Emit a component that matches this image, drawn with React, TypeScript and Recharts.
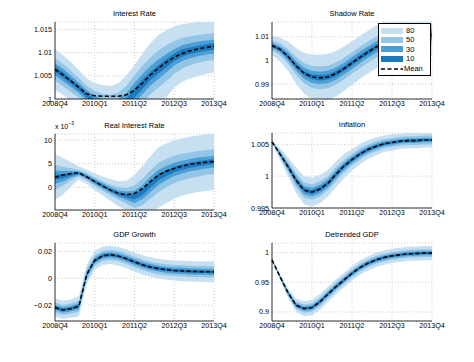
import React from 'react';
import { ComposedChart, Area, Line, XAxis, YAxis, CartesianGrid, Legend } from 'recharts';

// quarters on the x axis, labelled every 5th
const quarters = ['2008Q4', '2009Q1', '2009Q2', '2009Q3', '2009Q4', '2010Q1', '2010Q2', '2010Q3', '2010Q4', '2011Q1', '2011Q2',
  '2011Q3', '2011Q4', '2012Q1', '2012Q2', '2012Q3', '2012Q4', '2013Q1', '2013Q2', '2013Q3', '2013Q4'];
const xTicks = [0, 5, 10, 15, 20];

const bandNames = ['80', '50', '30', '10'];
const bandColors = ['#c6e0f2', '#93c5e6', '#4c9fd4', '#1b79bf'];

// Interest Rate
const irMean = [1.0064, 1.0052, 1.0039, 1.0025, 1.0011, 1.0007, 1.0006, 1.0006, 1.0006, 1.0009, 1.0019, 1.0034, 1.0052, 1.0066, 1.0079, 1.0090, 1.0098, 1.0104, 1.0108, 1.0111, 1.0114];
const irMid = [1.0064, 1.0052, 1.0038, 1.0024, 1.0008, 0.9995, 0.9986, 0.9981, 0.9982, 0.9992, 1.0013, 1.0032, 1.0050, 1.0064, 1.0077, 1.0090, 1.0099, 1.0104, 1.0108, 1.0111, 1.0113];
const irW80 = [0.0044, 0.0043, 0.0042, 0.0038, 0.0036, 0.0039, 0.0044, 0.0047, 0.0052, 0.0060, 0.0060, 0.0066, 0.0070, 0.0074, 0.0072, 0.0066, 0.0062, 0.0060, 0.0058, 0.0057, 0.0056];
const irW50 = [0.0024, 0.0024, 0.0023, 0.0021, 0.0020, 0.0022, 0.0025, 0.0028, 0.0032, 0.0037, 0.0038, 0.0040, 0.0040, 0.0040, 0.0039, 0.0035, 0.0033, 0.0031, 0.0030, 0.0029, 0.0029];
const irW30 = [0.0013, 0.0013, 0.0012, 0.0011, 0.0011, 0.0012, 0.0014, 0.0016, 0.0018, 0.0021, 0.0022, 0.0022, 0.0021, 0.0021, 0.0020, 0.0018, 0.0017, 0.0016, 0.0016, 0.0015, 0.0015];
const irW10 = [0.0006, 0.0006, 0.0005, 0.0005, 0.0005, 0.0005, 0.0006, 0.0007, 0.0008, 0.0009, 0.0010, 0.0010, 0.0009, 0.0009, 0.0009, 0.0008, 0.0008, 0.0007, 0.0007, 0.0007, 0.0007];

// Shadow Rate
const srMean = [1.0063, 1.0047, 1.0017, 0.9977, 0.9946, 0.9930, 0.9926, 0.9930, 0.9944, 0.9965, 0.9989, 1.0013, 1.0035, 1.0056, 1.0072, 1.0084, 1.0093, 1.0099, 1.0103, 1.0106, 1.0107];
const srW80 = [0.0041, 0.0050, 0.0062, 0.0075, 0.0086, 0.0095, 0.0098, 0.0098, 0.0096, 0.0094, 0.0092, 0.0091, 0.0090, 0.0090, 0.0090, 0.0090, 0.0090, 0.0090, 0.0090, 0.0090, 0.0090];
const srW50 = [0.0020, 0.0025, 0.0031, 0.0037, 0.0043, 0.0047, 0.0048, 0.0048, 0.0047, 0.0046, 0.0045, 0.0045, 0.0045, 0.0045, 0.0045, 0.0045, 0.0045, 0.0045, 0.0045, 0.0045, 0.0045];
const srW30 = [0.0011, 0.0013, 0.0017, 0.0020, 0.0023, 0.0025, 0.0026, 0.0026, 0.0026, 0.0025, 0.0025, 0.0024, 0.0024, 0.0024, 0.0024, 0.0024, 0.0024, 0.0024, 0.0024, 0.0024, 0.0024];
const srW10 = [0.0005, 0.0006, 0.0007, 0.0008, 0.0009, 0.0010, 0.0011, 0.0011, 0.0011, 0.0010, 0.0010, 0.0010, 0.0010, 0.0010, 0.0010, 0.0010, 0.0010, 0.0010, 0.0010, 0.0010, 0.0010];

// Real Interest Rate (x 10^-3)
const rrMean = [2.1, 2.6, 2.9, 3.1, 2.2, 1.2, 0.3, -0.6, -1.3, -1.6, -1.3, -0.3, 1.2, 2.6, 3.4, 4.0, 4.5, 4.9, 5.1, 5.3, 5.5];
const rrMid = [2.15, 2.35, 2.75, 3.0, 2.25, 1.2, 0.3, -0.6, -1.35, -1.8, -2.0, -1.0, 0.6, 2.1, 3.0, 3.8, 4.3, 4.7, 5.0, 5.25, 5.45];
const rrW80 = [4.85, 3.85, 2.55, 1.4, 1.55, 1.8, 2.0, 2.3, 2.65, 3.2, 4.6, 5.6, 6.0, 6.4, 6.3, 6.2, 6.1, 6.05, 6.0, 6.0, 6.0];
const rrW50 = [2.6, 2.0, 1.3, 0.7, 0.8, 0.9, 1.0, 1.15, 1.35, 1.65, 2.4, 2.8, 3.0, 3.1, 3.0, 2.9, 2.8, 2.7, 2.7, 2.6, 2.6];
const rrW30 = [1.4, 1.1, 0.7, 0.4, 0.4, 0.5, 0.55, 0.6, 0.7, 0.9, 1.3, 1.5, 1.6, 1.6, 1.5, 1.4, 1.35, 1.3, 1.3, 1.25, 1.25];
const rrW10 = [0.55, 0.45, 0.3, 0.15, 0.17, 0.2, 0.22, 0.25, 0.3, 0.38, 0.55, 0.62, 0.65, 0.65, 0.6, 0.58, 0.56, 0.55, 0.53, 0.52, 0.5];

// Inflation
const inMean = [1.0054, 1.0035, 1.0015, 0.9994, 0.9978, 0.9975, 0.9980, 0.9989, 1.0003, 1.0016, 1.0026, 1.0035, 1.0042, 1.0047, 1.0051, 1.0053, 1.0055, 1.0056, 1.0056, 1.0057, 1.0057];
const inW80 = [0.0002, 0.0009, 0.0015, 0.0020, 0.0022, 0.0023, 0.0022, 0.0021, 0.0020, 0.0019, 0.0017, 0.0016, 0.0015, 0.0014, 0.0013, 0.0013, 0.0012, 0.0012, 0.0012, 0.0012, 0.0012];
const inW50 = [0.0001, 0.0005, 0.0008, 0.0011, 0.0012, 0.0012, 0.0012, 0.0011, 0.0011, 0.0010, 0.0009, 0.0009, 0.0008, 0.0008, 0.0007, 0.0007, 0.0007, 0.0007, 0.0007, 0.0007, 0.0007];
const inW30 = [0.00005, 0.00027, 0.00045, 0.0006, 0.00066, 0.00069, 0.00066, 0.00063, 0.0006, 0.00057, 0.00051, 0.00048, 0.00045, 0.00042, 0.00039, 0.00039, 0.00036, 0.00036, 0.00036, 0.00036, 0.00036];
const inW10 = [0.00002, 0.0001, 0.0002, 0.00026, 0.00029, 0.0003, 0.00029, 0.00027, 0.00026, 0.00025, 0.00022, 0.00021, 0.0002, 0.00018, 0.00017, 0.00017, 0.00016, 0.00016, 0.00016, 0.00016, 0.00016];

// GDP Growth
const gdMean = [-0.0218, -0.0236, -0.0226, -0.0208, 0.0030, 0.0133, 0.0168, 0.0175, 0.0165, 0.0145, 0.0122, 0.0100, 0.0084, 0.0072, 0.0064, 0.0058, 0.0055, 0.0052, 0.0050, 0.0049, 0.0048];
const gdW80 = [0.0068, 0.0068, 0.0068, 0.0075, 0.0072, 0.0070, 0.0069, 0.0068, 0.0069, 0.0070, 0.0071, 0.0072, 0.0073, 0.0074, 0.0075, 0.0075, 0.0076, 0.0076, 0.0076, 0.0077, 0.0077];
const gdW50 = [0.0038, 0.0038, 0.0038, 0.0042, 0.0040, 0.0039, 0.0038, 0.0038, 0.0038, 0.0039, 0.0039, 0.0040, 0.0040, 0.0041, 0.0041, 0.0041, 0.0042, 0.0042, 0.0042, 0.0042, 0.0042];
const gdW30 = [0.0020, 0.0020, 0.0020, 0.0022, 0.0021, 0.0021, 0.0020, 0.0020, 0.0020, 0.0021, 0.0021, 0.0021, 0.0022, 0.0022, 0.0022, 0.0022, 0.0023, 0.0023, 0.0023, 0.0023, 0.0023];
const gdW10 = [0.0009, 0.0009, 0.0009, 0.0010, 0.0009, 0.0009, 0.0009, 0.0009, 0.0009, 0.0009, 0.0009, 0.0009, 0.0010, 0.0010, 0.0010, 0.0010, 0.0010, 0.0010, 0.0010, 0.0010, 0.0010];

// Detrended GDP
const dgMean = [0.9876, 0.9593, 0.9322, 0.9113, 0.9056, 0.9073, 0.9170, 0.9300, 0.9424, 0.9537, 0.9650, 0.9746, 0.9819, 0.9876, 0.9915, 0.9944, 0.9960, 0.9977, 0.9983, 0.9989, 0.9990];
const dgW80 = [0.002, 0.0045, 0.008, 0.011, 0.0125, 0.013, 0.013, 0.0128, 0.0125, 0.0123, 0.0122, 0.012, 0.012, 0.012, 0.012, 0.012, 0.012, 0.012, 0.012, 0.012, 0.012];
const dgW50 = [0.0011, 0.0025, 0.0044, 0.006, 0.0069, 0.0072, 0.0072, 0.007, 0.0069, 0.0068, 0.0067, 0.0066, 0.0066, 0.0066, 0.0066, 0.0066, 0.0066, 0.0066, 0.0066, 0.0066, 0.0066];
const dgW30 = [0.0006, 0.0013, 0.0024, 0.0033, 0.0037, 0.0039, 0.0039, 0.0038, 0.0037, 0.0037, 0.0036, 0.0036, 0.0036, 0.0036, 0.0036, 0.0036, 0.0036, 0.0036, 0.0036, 0.0036, 0.0036];
const dgW10 = [0.0003, 0.0006, 0.001, 0.0014, 0.0016, 0.0017, 0.0017, 0.0017, 0.0016, 0.0016, 0.0016, 0.0016, 0.0016, 0.0016, 0.0016, 0.0016, 0.0016, 0.0016, 0.0016, 0.0016, 0.0016];

const bandKeys = ['b80', 'b50', 'b30', 'b10'];

function makeRows(mean: number[], mid: number[], widths: number[][]) {
  return quarters.map((q, i) => {
    const row: any = { i, q, mean: mean[i] };
    widths.forEach((w, k) => {
      row[bandKeys[k]] = [mid[i] - w[i], mid[i] + w[i]];
    });
    return row;
  });
}

const minus = (v: number) => (v < 0 ? '\u2212' + Math.abs(v) : String(v));

const YW = 50;
const RP = 22;
const TP = 3;
const XH = 14;
const font = '"Liberation Sans", Arial, Helvetica, sans-serif';
const tickFont = { fontSize: 7.2, fill: '#000' };

const LegendBox = () => (
  <div style={{ border: '0.8px solid #000', background: '#fff', width: 53, height: 53, boxSizing: 'border-box', padding: '2px 0 0 2px', fontSize: 7.5, fontFamily: font, color: '#000' }}>
    {bandNames.map((n, k) => (
      <div key={n} style={{ display: 'flex', alignItems: 'center', height: 9.3 }}>
        <span style={{ display: 'inline-block', width: 22, height: 6, background: bandColors[k], marginRight: 3 }} />
        <span>{n}</span>
      </div>
    ))}
    <div style={{ display: 'flex', alignItems: 'center', height: 11 }}>
      <svg width={22} height={4} style={{ marginRight: 1 }}>
        <line x1={0} y1={2} x2={22} y2={2} stroke="#000" strokeWidth={1.6} strokeDasharray="4 2.5" />
      </svg>
      <span>Mean</span>
    </div>
  </div>
);

type PanelProps = {
  title: string;
  left: number;
  top: number;
  w: number;
  h: number;
  domain: [number, number];
  yTicks: number[];
  fmt?: (v: number) => string;
  rows: any[];
  legend?: boolean;
};

const Panel = ({ title, left, top, w, h, domain, yTicks, fmt, rows, legend }: PanelProps) => {
  const cl = left - YW;
  const ct = top - TP;
  return (
    <>
      <div style={{ position: 'absolute', left, width: w, top: top - 13, textAlign: 'center', fontSize: 7.5, lineHeight: '9px', color: '#000' }}>
        {title}
      </div>
      <div style={{ position: 'absolute', left: cl, top: ct }}>
        <ComposedChart width={YW + w + RP} height={TP + h + XH} data={rows} margin={{ top: TP, right: RP, bottom: 0, left: 0 }}>
          <CartesianGrid stroke="#bdbdbd" strokeDasharray="1 2" strokeWidth={0.8} />
          <XAxis dataKey="i" type="number" domain={[0, 20]} ticks={xTicks} interval={0} tickFormatter={(v) => quarters[v]}
            height={XH} tickSize={1} tickMargin={1} tickLine={false} axisLine={{ stroke: '#000', strokeWidth: 0.8 }}
            tick={tickFont} />
          <XAxis xAxisId="top" orientation="top" type="number" domain={[0, 20]} height={0} tick={false} tickLine={false}
            axisLine={{ stroke: '#000', strokeWidth: 0.8 }} />
          <YAxis type="number" domain={domain} ticks={yTicks} interval={0} allowDataOverflow tickFormatter={fmt}
            width={YW} tickSize={2} tickMargin={1} tickLine={false} axisLine={{ stroke: '#000', strokeWidth: 0.8 }}
            tick={tickFont} />
          <YAxis yAxisId="right" orientation="right" type="number" domain={[0, 1]} width={0} tick={false} tickLine={false}
            axisLine={{ stroke: '#000', strokeWidth: 0.8 }} />
          {bandKeys.map((k, idx) => (
            <Area key={k} type="linear" dataKey={k} stroke="none" fill={bandColors[idx]} fillOpacity={1}
              isAnimationActive={false} dot={false} activeDot={false} />
          ))}
          <Line type="linear" dataKey="mean" stroke="#000" strokeWidth={1.6} strokeDasharray="4 2.5" dot={false}
            activeDot={false} isAnimationActive={false} />
          {legend && (
            <Legend layout="horizontal" verticalAlign="middle" align="center" content={() => <LegendBox />}
              wrapperStyle={{ left: 378 - cl, top: 23 - ct, width: 53, height: 53 }} />
          )}
        </ComposedChart>
      </div>
    </>
  );
};

const App = () => {
  const ir = makeRows(irMean, irMid, [irW80, irW50, irW30, irW10]);
  const sr = makeRows(srMean, srMean, [srW80, srW50, srW30, srW10]);
  const rr = makeRows(rrMean, rrMid, [rrW80, rrW50, rrW30, rrW10]);
  const inf = makeRows(inMean, inMean, [inW80, inW50, inW30, inW10]);
  const gd = makeRows(gdMean, gdMean, [gdW80, gdW50, gdW30, gdW10]);
  const dg = makeRows(dgMean, dgMean, [dgW80, dgW50, dgW30, dgW10]);

  return (
    <div style={{ position: 'fixed', left: 0, top: 0, width: 474, height: 362, background: '#fff', fontFamily: font, color: '#000' }}>
      <Panel title="Interest Rate" left={55} top={22} w={159} h={77} domain={[1, 1.0166]} yTicks={[1, 1.005, 1.01, 1.015]} rows={ir} />
      <Panel title="Shadow Rate" left={272} top={22} w={160} h={77} domain={[0.9837, 1.0162]} yTicks={[0.99, 1, 1.01]} rows={sr} legend />
      <Panel title="Real Interest Rate" left={55} top={134} w={159} h={76} domain={[-4.8, 11.3]} yTicks={[0, 5, 10]} rows={rr} />
      <Panel title="Inflation" left={272} top={133} w={160} h={75} domain={[0.995, 1.0068]} yTicks={[0.995, 1, 1.005]} rows={inf} />
      <Panel title="GDP Growth" left={55} top={243} w={159} h={78} domain={[-0.0318, 0.0263]} yTicks={[-0.02, 0, 0.02]} fmt={minus} rows={gd} />
      <Panel title="Detrended GDP" left={272} top={243} w={160} h={78} domain={[0.8847, 1.016]} yTicks={[0.9, 0.95, 1]} rows={dg} />
      <div style={{ position: 'absolute', left: 55, top: 122, fontSize: 7, lineHeight: '9px' }}>
        x 10<sup style={{ fontSize: 5, verticalAlign: 'top', position: 'relative', top: -3 }}>−3</sup>
      </div>
    </div>
  );
};

export default App;
